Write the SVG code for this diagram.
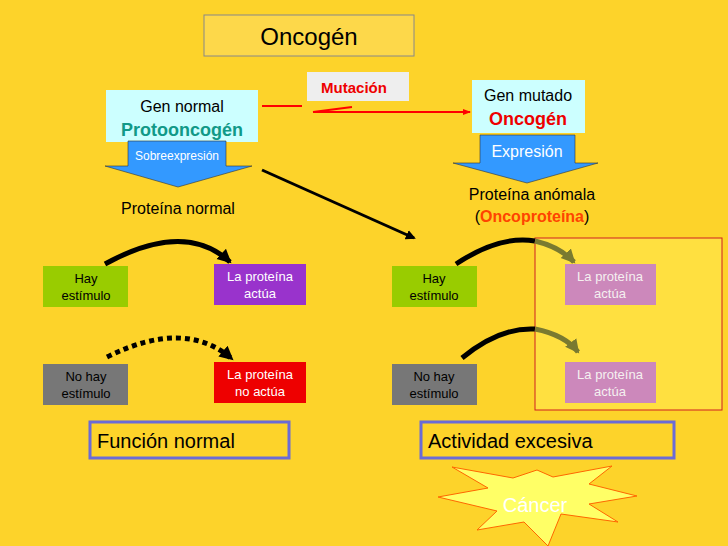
<svg xmlns="http://www.w3.org/2000/svg" width="728" height="546" viewBox="0 0 728 546">
<style>
text{font-family:"Liberation Sans",Arial,sans-serif;}
.sm{font-size:13px;text-anchor:middle}
.ln{fill:none;stroke:#000;stroke-width:5}
.ol{fill:none;stroke:#7a7a30;stroke-width:5}
.lb{fill:none;stroke:#6b6bd6;stroke-width:3}
</style>
<defs>
<marker id="bk" markerWidth="16" markerHeight="16" refX="12" refY="8" orient="auto" markerUnits="userSpaceOnUse"><path d="M0,1 L14,8 L0,15 z" fill="#000"/></marker>
<marker id="ok" markerWidth="16" markerHeight="16" refX="12" refY="8" orient="auto" markerUnits="userSpaceOnUse"><path d="M0,1 L14,8 L0,15 z" fill="#7a7a30"/></marker>
<marker id="ak" markerWidth="10" markerHeight="10" refX="8" refY="5" orient="auto" markerUnits="userSpaceOnUse"><path d="M0,0 L10,5 L0,10 z" fill="#000"/></marker>
<marker id="rk" markerWidth="8" markerHeight="8" refX="7" refY="4" orient="auto" markerUnits="userSpaceOnUse"><path d="M0,1 L8,4 L0,7 z" fill="#f00"/></marker>
</defs>
<rect width="728" height="546" fill="#fdd32a"/>
<rect x="535" y="238" width="187" height="172" fill="#ffe040" stroke="#d02020" stroke-width="1"/>
<g id="title"><rect x="204" y="15" width="210" height="41" fill="#fdd84a" stroke="#888" stroke-width="1"/><text x="309" y="45" font-size="24" text-anchor="middle">Oncogén</text></g>
<g id="mutacion"><rect x="307" y="72" width="102" height="29" fill="#eeeeee"/><text x="354" y="93" font-size="15" font-weight="bold" fill="#e00" text-anchor="middle">Mutación</text></g>
<g id="gen-normal"><rect x="106" y="90" width="152" height="52" fill="#ccffff"/><text x="182" y="112" font-size="16" text-anchor="middle">Gen normal</text><text x="182" y="136" font-size="18" font-weight="bold" fill="#119988" text-anchor="middle">Protooncogén</text></g>
<g id="gen-mutado"><rect x="472" y="80" width="113" height="53" fill="#ccffff"/><text x="528" y="101" font-size="16" text-anchor="middle">Gen mutado</text><text x="528" y="125" font-size="18" font-weight="bold" fill="#e00" text-anchor="middle">Oncogén</text></g>
<g id="sobreexpresion"><path d="M128,141 H226 V166 H252 L178,187 L105,166 H128 Z" fill="#3399ff" stroke="#333" stroke-width="0.6"/><text x="177" y="160" font-size="12" fill="#fff" text-anchor="middle">Sobreexpresión</text></g>
<g id="expresion"><path d="M480,135 H575 V163 H598 L527,183 L453,163 H480 Z" fill="#3399ff" stroke="#333" stroke-width="0.6"/><text x="527" y="157" font-size="16" fill="#fff" text-anchor="middle">Expresión</text></g>
<g id="proteina-normal"><text x="178" y="214" font-size="16" text-anchor="middle">Proteína normal</text></g>
<g id="proteina-anomala"><text x="532" y="200" font-size="16" text-anchor="middle">Proteína anómala</text><text x="532" y="222" font-size="16" text-anchor="middle">(<tspan font-weight="bold" fill="#ff4400">Oncoproteína</tspan>)</text></g>
<g id="hay1"><rect x="43" y="266" width="85" height="41" fill="#99cc00"/><text class="sm" x="86" y="283">Hay</text><text class="sm" x="86" y="300">estímulo</text></g>
<g id="act1"><rect x="214" y="264" width="92" height="41" fill="#9933cc"/><text class="sm" x="260" y="281" fill="#fff">La proteína</text><text class="sm" x="260" y="298" fill="#fff">actúa</text></g>
<g id="nohay1"><rect x="43" y="364" width="85" height="41" fill="#777"/><text class="sm" x="86" y="381">No hay</text><text class="sm" x="86" y="398">estímulo</text></g>
<g id="noact1"><rect x="214" y="362" width="92" height="41" fill="#ee0000"/><text class="sm" x="260" y="379" fill="#fff">La proteína</text><text class="sm" x="260" y="396" fill="#fff">no actúa</text></g>
<g id="hay2"><rect x="392" y="266" width="85" height="41" fill="#99cc00"/><text class="sm" x="434" y="283">Hay</text><text class="sm" x="434" y="300">estímulo</text></g>
<g id="act2"><rect x="565" y="264" width="91" height="41" fill="#cc88bb"/><text class="sm" x="610" y="281" fill="#f5f0f0">La proteína</text><text class="sm" x="610" y="298" fill="#f5f0f0">actúa</text></g>
<g id="nohay2"><rect x="392" y="364" width="85" height="41" fill="#777"/><text class="sm" x="434" y="381">No hay</text><text class="sm" x="434" y="398">estímulo</text></g>
<g id="act3"><rect x="565" y="362" width="91" height="41" fill="#cc88bb"/><text class="sm" x="610" y="379" fill="#f5f0f0">La proteína</text><text class="sm" x="610" y="396" fill="#f5f0f0">actúa</text></g>
<g id="funcion-normal"><rect x="90" y="422" width="199" height="36" class="lb"/><text x="97" y="448" font-size="20">Función normal</text></g>
<g id="actividad-excesiva"><rect x="421" y="422" width="253" height="36" class="lb"/><text x="428" y="448" font-size="20">Actividad excesiva</text></g>
<g id="cancer"><polygon points="438,497 488,488 452,467 513,478 537,470 553,477 612,466 589,484 637,496 589,504 618,522 561,514 548,546 524,522 477,530 497,511" fill="#ffff66" stroke="#ff6600" stroke-width="1"/><text x="535" y="512" font-size="20" fill="#fff" text-anchor="middle">Cáncer</text></g>
<g id="connectors">
<path d="M262,106 H302 M313,112 L352,107 M313,112 H470" fill="none" stroke="#f00" stroke-width="2" marker-end="url(#rk)"/>
<path d="M262,170 L414,238" fill="none" stroke="#000" stroke-width="3" marker-end="url(#ak)"/>
<path d="M105,264 Q185,220 230,262" class="ln" marker-end="url(#bk)"/>
<path d="M107,357 Q185,318 232,359" class="ln" stroke-dasharray="5,4" marker-end="url(#bk)"/>
<path d="M456,264 Q500,235 535,241" class="ln"/>
<path d="M535,241 Q560,247 574,262" class="ol" marker-end="url(#ok)"/>
<path d="M462,358 Q500,327 535,329" class="ln"/>
<path d="M535,329 Q565,335 578,352" class="ol" marker-end="url(#ok)"/>
</g>
</svg>
